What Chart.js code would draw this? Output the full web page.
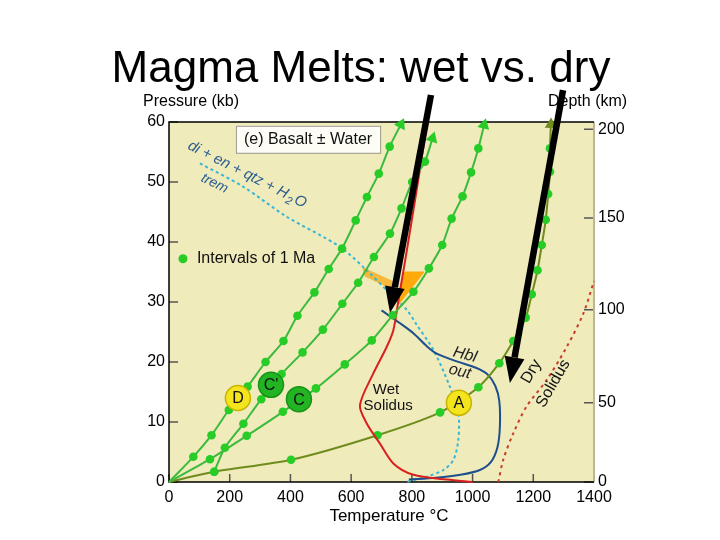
<!DOCTYPE html>
<html>
<head>
<meta charset="utf-8">
<script src="https://cdn.jsdelivr.net/npm/chart.js@4.4.0/dist/chart.umd.min.js"></script>
<style>
  html, body { margin: 0; padding: 0; background: #fff; }
  #wrap { width: 720px; height: 540px; }
</style>
</head>
<body>
<div id="wrap"><canvas id="chart" width="720" height="540"></canvas></div>
<script>
var FONT = "'Liberation Sans', Arial, Helvetica, sans-serif";

// axes
var tempTicks = [0, 200, 400, 600, 800, 1000, 1200, 1400];
var pressTicks = [0, 10, 20, 30, 40, 50, 60];
var depthLabels = [0, 50, 100, 150, 200];
var depthAtPress = [0, 13.2, 28.7, 44.0, 58.8];

// P-T-t paths, dots = intervals of 1 Ma (T in C, P in kb)
var pathD_T = [0, 80, 140, 197, 259, 318, 377, 423, 479, 526, 570, 615, 652, 691, 727, 764];
var pathD_P = [0, 4.2, 7.8, 12, 15.9, 20, 23.5, 27.7, 31.6, 35.5, 38.9, 43.6, 47.5, 51.4, 55.9, 59.6];
var pathC2_T = [149, 184, 245, 304, 371, 440, 507, 571, 623, 675, 728, 766, 801, 843, 868];
var pathC2_P = [1.7, 5.7, 9.7, 13.8, 18, 21.6, 25.4, 29.7, 33.2, 37.5, 41.4, 45.6, 50, 53.4, 57.3];
var pathC_T = [0, 135, 256, 375, 484, 579, 668, 737, 805, 856, 900, 931, 967, 995, 1019, 1038];
var pathC_P = [0, 3.8, 7.7, 11.7, 15.6, 19.6, 23.6, 27.8, 31.7, 35.6, 39.5, 43.9, 47.6, 51.6, 55.6, 59.5];
var pathA_T = [0, 149, 402, 687, 893, 1019, 1088, 1134, 1175, 1195, 1214, 1228, 1241, 1249, 1255, 1255, 1258];
var pathA_P = [0, 1.7, 3.7, 7.8, 11.6, 15.8, 19.8, 23.5, 27.4, 31.3, 35.3, 39.5, 43.7, 48, 51.7, 55.6, 59.6];

// phase boundaries
var wetSol_T = [1000, 915, 805, 739, 695, 651, 629, 673, 717, 739, 755, 788, 820, 840, 852];
var wetSol_P = [0, 0.4, 1.2, 3.1, 6.4, 9.8, 12.8, 18.1, 22.5, 25.3, 30, 40, 50, 56.5, 60];
var drySol_T = [1085, 1101, 1134, 1178, 1244, 1310, 1365, 1400];
var drySol_P = [0, 3.7, 8.1, 12.6, 17, 22.5, 28.1, 33.5];
var hbl_T = [700, 760, 805, 850, 882, 948, 1013, 1050, 1075, 1088, 1090, 1082, 1060, 1024, 960, 880, 790];
var hbl_P = [28.6, 26.5, 24.8, 22.6, 21.4, 20.1, 19, 17.9, 16, 13.5, 9.2, 5.8, 3.3, 2, 1.2, 0.7, 0.4];
var trem_T = [102, 245, 388, 563, 651, 728, 783, 816, 871, 925, 953, 953, 937, 904, 849, 783];
var trem_P = [53.1, 49.2, 44.2, 39.2, 35.3, 31.4, 28.7, 26.2, 22, 15.9, 11.5, 7, 3.7, 2, 0.9, 0];

// orange melting region and its pointer
var meltZone_T = [777, 840, 755, 777];
var meltZone_P = [35, 35, 29.5, 35];
var meltPointer_T = [639, 734, 734, 646, 639];
var meltPointer_P = [35.7, 33.5, 32.2, 34.3, 35.7];

// labelled circles on the paths
var circleNames = ['D', "C'", 'C', 'A'];
var circle_T = [227, 336, 428, 955];
var circle_P = [14, 16.2, 13.8, 13.2];

// slide annotation arrows (wet / dry)
var arrowFrom_T = [863, 1298];
var arrowFrom_P = [64.5, 65.3];
var arrowTo_T = [728, 1123];
var arrowTo_P = [28.2, 16.5];

var GREEN = '#3cba3c', DOT = '#27cc27', OLIVE = '#6f8c1e';

function pts(t, p) { return t.map(function (v, i) { return { x: v, y: p[i] }; }); }

function pathSet(t, p, line, dot, head, order) {
  var n = t.length;
  return {
    data: pts(t, p), showLine: true, borderColor: line, borderWidth: 2, tension: 0.25,
    pointBackgroundColor: function (c) { return c.dataIndex === n - 1 ? head : dot; },
    pointBorderColor: function (c) { return c.dataIndex === n - 1 ? head : dot; },
    pointBorderWidth: 0,
    pointRadius: function (c) {
      if (c.dataIndex === 0 && p[0] === 0) return 0;
      return c.dataIndex === n - 1 ? 7 : 4.3;
    },
    pointStyle: function (c) { return c.dataIndex === n - 1 ? 'triangle' : 'circle'; },
    pointRotation: function (c) {
      if (c.dataIndex !== n - 1) return 0;
      var sx = c.chart.scales.x, sy = c.chart.scales.y;
      var dx = sx.getPixelForValue(t[n - 1]) - sx.getPixelForValue(t[n - 2]);
      var dy = sy.getPixelForValue(p[n - 1]) - sy.getPixelForValue(p[n - 2]);
      return Math.atan2(dx, -dy) * 180 / Math.PI;
    },
    clip: false, order: order
  };
}

function curveSet(t, p, color, dash, order) {
  return {
    data: pts(t, p), showLine: true, borderColor: color, borderWidth: 2, borderDash: dash,
    tension: 0.3, pointRadius: 0, clip: false, order: order
  };
}

var notes = [
  { text: 'Intervals of 1 Ma', t: 92, p: 37.2, size: 16, align: 'left', rot: 0, color: '#111' },
  { text: 'Hbl', t: 975, p: 21.2, size: 16, style: 'italic', rot: 14, color: '#222' },
  { text: 'out', t: 958, p: 18.4, size: 16, style: 'italic', rot: 14, color: '#222' },
  { text: 'Wet', t: 715, p: 15.3, size: 15, rot: 0, color: '#111' },
  { text: 'Solidus', t: 722, p: 12.7, size: 15, rot: 0, color: '#111' },
  { text: 'Dry', t: 1194, p: 18.4, size: 16, rot: -60, color: '#111' },
  { text: 'Solidus', t: 1266, p: 16.4, size: 16, rot: -60, color: '#111' },
  { text: 'trem', t: 109, p: 50.8, size: 14, style: 'italic', align: 'left', rot: 27, color: '#2a5d8f' }
];

var framePlugin = {
  id: 'frame',
  beforeDatasetsDraw: function (chart) {
    var c = chart.ctx, a = chart.chartArea;
    var sx = chart.scales.x, sy = chart.scales.y, s2 = chart.scales.y2;
    c.save();
    c.fillStyle = '#efebbb';
    c.fillRect(a.left, a.top, a.right - a.left, a.bottom - a.top);
    c.strokeStyle = '#555'; c.lineWidth = 1.5;
    c.beginPath();
    sx.ticks.forEach(function (tk) { var x = sx.getPixelForValue(tk.value); c.moveTo(x, a.bottom); c.lineTo(x, a.bottom - 8); });
    sy.ticks.forEach(function (tk) { var y = sy.getPixelForValue(tk.value); c.moveTo(a.left, y); c.lineTo(a.left + 9, y); });
    s2.ticks.forEach(function (tk) { var y = s2.getPixelForValue(tk.value); c.moveTo(a.right, y); c.lineTo(a.right - 10, y); });
    c.stroke();
    c.strokeStyle = '#bdb690'; c.lineWidth = 2;
    c.beginPath(); c.moveTo(a.right, a.top); c.lineTo(a.right, a.bottom); c.stroke();
    c.strokeStyle = '#000'; c.lineWidth = 1.5;
    c.beginPath();
    c.moveTo(a.right, a.top); c.lineTo(a.left, a.top); c.lineTo(a.left, a.bottom); c.lineTo(a.right, a.bottom);
    c.stroke();
    c.restore();
  },
  afterDatasetsDraw: function (chart) {
    var c = chart.ctx, sx = chart.scales.x, sy = chart.scales.y;
    c.save();
    // circle letters
    c.fillStyle = '#111'; c.textAlign = 'center'; c.textBaseline = 'middle';
    c.font = '16px ' + FONT;
    circleNames.forEach(function (nm, i) {
      c.fillText(nm, sx.getPixelForValue(circle_T[i]), sy.getPixelForValue(circle_P[i]) + 1);
    });
    // notes
    notes.forEach(function (n) {
      c.save();
      c.translate(sx.getPixelForValue(n.t), sy.getPixelForValue(n.p));
      c.rotate(n.rot * Math.PI / 180);
      c.font = (n.style ? n.style + ' ' : '') + n.size + 'px ' + FONT;
      c.fillStyle = n.color; c.textAlign = n.align || 'center'; c.textBaseline = 'middle';
      c.fillText(n.text, 0, 0);
      c.restore();
    });
    // reaction label with subscript
    c.save();
    c.translate(sx.getPixelForValue(59), sy.getPixelForValue(55.6));
    c.rotate(27 * Math.PI / 180);
    c.fillStyle = '#2a5d8f'; c.textAlign = 'left'; c.textBaseline = 'alphabetic';
    c.font = 'italic 15px ' + FONT;
    var s1 = 'di + en + qtz + H';
    c.fillText(s1, 0, 0);
    var w = c.measureText(s1).width;
    c.font = 'italic 11px ' + FONT;
    c.fillText('2', w + 1, 4);
    c.font = 'italic 15px ' + FONT;
    c.fillText('O', w + 9, 0);
    c.restore();
    // panel box
    var bx = sx.getPixelForValue(458), by = sy.getPixelForValue(57.2);
    c.font = '16px ' + FONT;
    var bw = c.measureText('(e) Basalt \u00b1 Water').width + 16;
    c.fillStyle = '#fdfdf6'; c.strokeStyle = '#9a9a90'; c.lineWidth = 1;
    c.fillRect(bx - bw / 2, by - 13, bw, 27);
    c.strokeRect(bx - bw / 2 + 0.5, by - 13 + 0.5, bw, 27);
    c.fillStyle = '#111'; c.textAlign = 'center'; c.textBaseline = 'middle';
    c.fillText('(e) Basalt \u00b1 Water', bx, by + 1);
    c.restore();
  },
  afterDraw: function (chart) {
    var c = chart.ctx, sx = chart.scales.x, sy = chart.scales.y;
    c.save();
    c.fillStyle = '#000'; c.textBaseline = 'alphabetic';
    c.font = '44px ' + FONT; c.textAlign = 'center';
    c.fillText('Magma Melts: wet vs. dry', 361, 82);
    c.font = '16px ' + FONT; c.textAlign = 'left';
    c.fillText('Pressure (kb)', 143, 106);
    c.fillText('Depth (km)', 548, 106);
    c.font = '17px ' + FONT; c.textAlign = 'center';
    c.fillText('Temperature \u00b0C', 389, 521);
    // annotation arrows
    for (var i = 0; i < arrowFrom_T.length; i++) {
      var x1 = sx.getPixelForValue(arrowFrom_T[i]), y1 = sy.getPixelForValue(arrowFrom_P[i]);
      var x2 = sx.getPixelForValue(arrowTo_T[i]), y2 = sy.getPixelForValue(arrowTo_P[i]);
      var ang = Math.atan2(y2 - y1, x2 - x1), head = 26, half = 10;
      var hx = x2 - head * Math.cos(ang), hy = y2 - head * Math.sin(ang);
      c.strokeStyle = '#000'; c.lineWidth = 6.5; c.lineCap = 'butt';
      c.beginPath(); c.moveTo(x1, y1); c.lineTo(hx, hy); c.stroke();
      c.beginPath();
      c.moveTo(x2, y2);
      c.lineTo(hx + half * Math.sin(ang), hy - half * Math.cos(ang));
      c.lineTo(hx - half * Math.sin(ang), hy + half * Math.cos(ang));
      c.closePath(); c.fill();
    }
    c.restore();
  }
};

var tickFont = { family: FONT, size: 16 };

new Chart(document.getElementById('chart'), {
  type: 'scatter',
  data: {
    datasets: [
      { data: pts(meltPointer_T, meltPointer_P), showLine: true, fill: 'shape', backgroundColor: '#f6b93e', borderColor: '#f6b93e', borderWidth: 1, pointRadius: 0, tension: 0, order: 12 },
      { data: pts(meltZone_T, meltZone_P), showLine: true, fill: 'shape', backgroundColor: '#ffa90a', borderColor: '#ffa90a', borderWidth: 1, pointRadius: 0, tension: 0, order: 11 },
      curveSet(trem_T, trem_P, '#37b6d6', [3, 3], 10),
      curveSet(drySol_T, drySol_P, '#cc3a2a', [3, 4], 9),
      curveSet(hbl_T, hbl_P, '#1d4f8c', [], 8),
      curveSet(wetSol_T, wetSol_P, '#d92020', [], 6),
      pathSet(pathA_T, pathA_P, OLIVE, DOT, '#6f8c1e', 7),
      pathSet(pathC_T, pathC_P, GREEN, DOT, DOT, 5),
      pathSet(pathC2_T, pathC2_P, GREEN, DOT, DOT, 4),
      pathSet(pathD_T, pathD_P, GREEN, DOT, DOT, 3),
      {
        data: pts(circle_T, circle_P), pointRadius: 12.5, pointBorderWidth: 1.5,
        pointBackgroundColor: ['#f3e41e', '#22b422', '#22b422', '#f3e41e'],
        pointBorderColor: ['#c8b400', '#179317', '#179317', '#c8b400'], order: 1
      },
      { data: [{ x: 46, y: 37.2 }], pointRadius: 4.5, pointBackgroundColor: DOT, pointBorderWidth: 0, order: 1 }
    ]
  },
  options: {
    responsive: false, animation: false, events: [],
    layout: { padding: { top: 122, left: 0, right: 0, bottom: 0 } },
    plugins: { legend: { display: false }, tooltip: { enabled: false }, title: { display: false } },
    scales: {
      x: {
        type: 'linear', position: 'bottom', min: 0, max: 1400,
        afterBuildTicks: function (s) { s.ticks = tempTicks.map(function (v) { return { value: v }; }); },
        afterFit: function (s) { s.height = 58; },
        grid: { display: false, drawTicks: false }, border: { display: false },
        ticks: { color: '#000', font: tickFont, padding: 6, maxRotation: 0, autoSkip: false,
                 callback: function (v) { return String(v); } }
      },
      y: {
        type: 'linear', position: 'left', min: 0, max: 60,
        afterBuildTicks: function (s) { s.ticks = pressTicks.map(function (v) { return { value: v }; }); },
        afterFit: function (s) { s.width = 169; },
        grid: { display: false, drawTicks: false }, border: { display: false },
        ticks: { color: '#000', font: tickFont, padding: 4 }
      },
      y2: {
        type: 'linear', position: 'right', min: 0, max: 60,
        afterBuildTicks: function (s) { s.ticks = depthAtPress.map(function (v) { return { value: v }; }); },
        afterFit: function (s) { s.width = 126; },
        grid: { display: false, drawTicks: false }, border: { display: false },
        ticks: { color: '#000', font: tickFont, padding: 4, callback: function (v, i) { return depthLabels[i]; } }
      }
    }
  },
  plugins: [framePlugin]
});
</script>
</body>
</html>
